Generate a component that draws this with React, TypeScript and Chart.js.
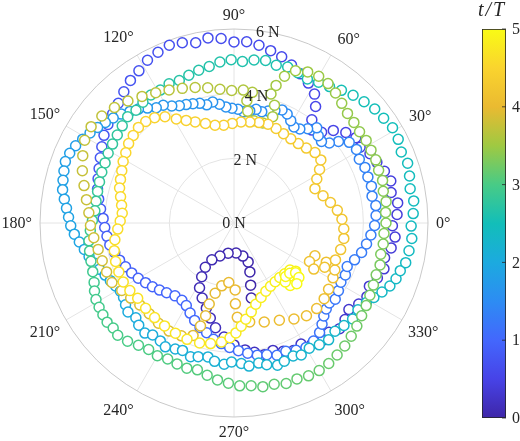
import React, { useEffect, useRef } from "react";
import { Chart, registerables } from "chart.js";

Chart.register(...registerables);

// ---- data: force direction (deg) and magnitude (N), sampled uniformly in time ----
const thetaDeg = [
  283, 285, 288, 290, 285, 274, 259, 247, 239, 237, 239, 242, 247, 252, 256, 260, 265, 270, 275,
  279, 283, 287, 291, 295, 299, 303, 307, 311, 315, 319, 323, 327, 331, 335, 339, 343, 347, 351, 355, 359,
  3, 7, 11, 15, 19, 23, 27, 31, 35, 39,
  43, 46, 50, 53, 55, 58, 62, 66, 70, 74,
  78, 82, 86, 90, 94, 98, 102, 106, 110, 114,
  118, 122, 126, 130, 134, 138, 142, 146, 150, 154,
  158, 162, 166, 170, 174, 178, 182, 186, 190, 194,
  198, 202, 206, 210, 214, 218, 222, 226, 231, 236,
  240, 244, 248, 252, 256, 260, 264, 268, 272, 276,
  280, 284, 288, 292, 296, 300, 304, 308, 311, 314,
  317, 320, 323, 327, 331, 335, 339, 343, 347, 351,
  355, 359, 3, 7, 11, 15, 19, 23, 27, 31,
  35, 38, 40, 43, 46, 49, 52, 55, 58, 61,
  64, 67, 70, 73, 76, 79, 82, 85, 88, 91,
  94, 97, 100, 103, 106, 109, 112, 115, 118, 121,
  124, 127, 130, 133, 136, 139, 142, 145, 148, 151,
  154, 157, 160, 163, 166, 169, 172, 175, 178, 181,
  184, 187, 190, 193, 196, 199, 202, 205, 208, 211,
  214, 217, 220, 224, 227, 231, 234, 238, 241, 245,
  248, 252, 255, 259, 262, 266, 269, 273, 276, 280,
  283, 287, 290, 294, 297, 301, 305, 309, 313, 317,
  321, 325, 329, 332, 335, 338, 341, 344, 347, 351,
  355, 359, 3, 7, 11, 15, 19, 23, 27, 31,
  35, 39, 43, 47, 51, 55, 59, 63, 67, 71,
  75, 79, 83, 87, 91, 95, 99, 103, 107, 111,
  115, 119, 123, 127, 131, 135, 139, 143, 147, 151,
  155, 159, 163, 167, 171, 175, 179, 183, 187, 191,
  195, 199, 203, 206, 209, 212, 215, 218, 221, 224,
  228, 232, 236, 240, 244, 248, 252, 256, 260, 264,
  268, 272, 276, 280, 284, 288, 292, 296, 300, 304,
  308, 312, 316, 320, 324, 328, 332, 336, 340, 344,
  348, 352, 356, 0, 4, 8, 12, 16, 20, 24,
  28, 32, 36, 40, 44, 48, 52, 56, 60, 64,
  68, 71, 73, 74, 71, 70, 74, 79, 83, 84,
  82, 86, 91, 96, 101, 106, 111, 116, 121, 126,
  131, 136, 141, 146, 151, 156, 161, 166, 171, 176,
  181, 186, 191, 196, 201, 206, 211, 216, 221, 227,
  233, 239, 245, 250, 252, 253, 253, 255, 259, 265,
  271, 271, 272, 279, 287, 295, 302, 308, 314, 320,
  325, 331, 335, 337, 338, 333, 330, 334, 340, 346,
  352, 357, 2, 7, 12, 17, 23, 28, 32, 36,
  41, 46, 51, 56, 61, 66, 71, 76, 81, 86,
  91, 96, 101, 106, 111, 115, 119, 123, 127, 131,
  135, 139, 143, 147, 151, 155, 159, 163, 167, 171,
  175, 179, 183, 188, 193, 198, 203, 208, 213, 218,
  224, 230, 236, 242, 248, 254, 259, 264, 268, 271,
  274, 277, 281, 285, 290, 295, 300, 305, 310, 315,
  320, 322, 320, 316, 312, 311, 314, 318, 321, 320, 316,
];

const forceN = [
  2.38, 1.99, 1.59, 1.28, 1.06, 0.93, 0.95, 1.11, 1.33, 1.63, 1.94, 2.27, 2.52, 2.77, 3.03, 3.29, 3.54, 3.77, 3.94,
  4.05, 4.18, 4.12, 4.25, 4.35, 4.28, 4.45, 4.55, 4.48, 4.62, 4.55, 4.45, 4.6, 4.7, 4.62, 4.75, 4.85, 4.78, 4.92, 5.0, 4.9,
  5.05, 5.1, 4.95, 5.02, 4.92, 4.8, 4.72, 4.55, 4.6, 4.45,
  4.2, 3.9, 3.75, 4.0, 4.4, 4.7, 4.9, 5.05, 5.2, 5.35,
  5.45, 5.55, 5.62, 5.6, 5.72, 5.78, 5.7, 5.8, 5.85, 5.78,
  5.7, 5.55, 5.45, 5.3, 5.15, 5.05, 4.95, 4.85, 4.72, 4.6,
  4.5, 4.42, 4.35, 4.25, 4.15, 4.05, 4.0, 3.95, 3.9, 3.8,
  3.72, 3.62, 3.52, 3.42, 3.3, 3.2, 3.1, 3.0, 2.9, 2.88,
  2.95, 3.1, 3.25, 3.4, 3.5, 3.65, 3.75, 3.85, 3.95, 4.05,
  4.15, 4.2, 4.3, 4.28, 4.38, 4.45, 4.4, 4.3, 4.15, 4.0,
  3.9, 3.85, 3.92, 3.85, 3.78, 3.8, 3.75, 3.9, 4.05, 4.15,
  4.25, 4.35, 4.4, 4.42, 4.35, 4.4, 4.38, 4.4, 4.35, 4.42,
  4.35, 4.1, 3.85, 3.7, 3.75, 3.9, 3.7, 3.55, 3.5, 3.62,
  3.75, 3.8, 3.7, 3.62, 3.55, 3.58, 3.5, 3.45, 3.52, 3.55,
  3.6, 3.7, 3.8, 3.75, 3.85, 3.9, 3.95, 4.0, 4.1, 4.25,
  4.3, 4.45, 4.6, 4.72, 4.85, 4.95, 5.05, 5.15, 5.25, 5.35,
  5.45, 5.52, 5.55, 5.5, 5.45, 5.4, 5.3, 5.2, 5.12, 5.05,
  4.95, 4.82, 4.7, 4.6, 4.5, 4.4, 4.3, 4.22, 4.15, 4.1,
  4.12, 4.2, 4.28, 4.22, 4.32, 4.38, 4.28, 4.3, 4.38, 4.3,
  4.25, 4.35, 4.28, 4.22, 4.32, 4.38, 4.3, 4.35, 4.45, 4.4,
  4.5, 4.6, 4.55, 4.5, 4.58, 4.52, 4.6, 4.65, 4.58, 4.65,
  4.72, 4.68, 4.78, 4.9, 5.05, 5.2, 5.3, 5.35, 5.45, 5.48,
  5.52, 5.48, 5.55, 5.6, 5.55, 5.62, 5.68, 5.62, 5.7, 5.72,
  5.65, 5.6, 5.5, 5.4, 5.28, 5.15, 5.08, 5.0, 5.05, 5.1,
  5.05, 5.12, 5.08, 5.0, 5.05, 5.0, 4.9, 4.85, 4.78, 4.72,
  4.75, 4.7, 4.72, 4.68, 4.62, 4.65, 4.58, 4.52, 4.48, 4.45,
  4.4, 4.38, 4.35, 4.33, 4.32, 4.32, 4.38, 4.45, 4.52, 4.55,
  4.58, 4.62, 4.7, 4.8, 4.88, 4.92, 4.95, 4.98, 4.95, 5.0,
  4.92, 4.8, 4.72, 4.74, 4.68, 4.7, 4.72, 4.68, 4.78, 4.88,
  4.96, 5.04, 5.06, 5.14, 5.14, 5.22, 5.2, 5.26, 5.27, 5.24,
  5.18, 5.12, 5.04, 4.96, 4.88, 4.82, 4.76, 4.72, 4.68, 4.7,
  4.64, 4.66, 4.65, 4.7, 4.7, 4.75, 4.72, 4.78, 4.76, 4.8,
  4.8, 4.82, 4.8, 4.84, 4.88, 4.98, 5.1, 5.2, 5.24, 5.2,
  5.08, 4.8, 4.45, 4.15, 3.85, 3.5, 3.22, 3.22, 3.48, 3.8,
  4.08, 4.12, 4.1, 4.16, 4.26, 4.36, 4.46, 4.58, 4.7, 4.84,
  5.0, 5.14, 5.26, 5.33, 5.28, 5.12, 4.96, 4.78, 4.62, 4.5,
  4.44, 4.36, 4.28, 4.24, 4.22, 4.2, 4.05, 3.95, 3.86, 3.84,
  3.88, 3.9, 3.85, 3.7, 3.35, 3.0, 2.62, 2.25, 1.98, 1.85,
  2.07, 2.5, 2.92, 3.1, 3.2, 3.32, 3.5, 3.64, 3.68, 3.64,
  3.57, 3.5, 3.44, 3.1, 2.7, 2.62, 2.85, 3.12, 3.34, 3.4,
  3.43, 3.4, 3.34, 3.22, 3.05, 2.88, 2.72, 2.9, 3.12, 3.32,
  3.32, 3.22, 3.16, 3.14, 3.16, 3.2, 3.23, 3.2, 3.16, 3.13,
  3.08, 3.04, 3.08, 3.2, 3.35, 3.5, 3.68, 3.92, 4.08, 4.16,
  4.18, 4.13, 4.08, 3.99, 3.92, 3.83, 3.76, 3.7, 3.6, 3.52,
  3.47, 3.52, 3.6, 3.72, 3.8, 3.85, 3.87, 3.88, 3.84, 3.78,
  3.8, 3.82, 3.84, 3.86, 3.88, 3.86, 3.8, 3.7, 3.55, 3.4,
  3.2, 3.0, 2.8, 2.6, 2.45, 2.33, 2.26, 2.22, 2.2, 2.22,
  2.26, 2.42, 2.6, 2.68, 2.6, 2.42, 2.3, 2.32, 2.45, 2.62, 2.7,
];

const T_START = 0;
const T_END = 5; // t/T of the last sample (uniform time sampling)

const thetaTicks = [0, 30, 60, 90, 120, 150, 180, 210, 240, 270, 300, 330];
const rTicks = [0, 2, 4, 6];
const colorbarTicks = [0, 1, 2, 3, 4, 5];
const R_MAX = 6;
const R_LABEL_ANGLE = 80;

// parula colormap stops (0, 0.1, ..., 1)
const PARULA: number[][] = [
  [62, 38, 168], [71, 67, 231], [67, 103, 253], [45, 140, 243], [28, 170, 223],
  [18, 190, 185], [72, 203, 134], [159, 201, 66], [234, 186, 49], [250, 212, 46], [249, 251, 21],
];

function parula(f: number): string {
  const c = Math.max(0, Math.min(1, f)) * (PARULA.length - 1);
  const i = Math.min(PARULA.length - 2, Math.floor(c));
  const u = c - i;
  const a = PARULA[i], b = PARULA[i + 1];
  const m = (k: number) => Math.round(a[k] + (b[k] - a[k]) * u);
  return `rgb(${m(0)},${m(1)},${m(2)})`;
}

const FONT = '"Liberation Serif", "Times New Roman", serif';
const TEXT = "#262626";

const polarDecor = {
  id: "polarDecor",
  beforeDatasetsDraw(chart: any) {
    const { ctx, scales } = chart;
    const xs = scales.x, ys = scales.y;
    const cx = xs.getPixelForValue(0), cy = ys.getPixelForValue(0);
    ctx.save();
    ctx.lineWidth = 1;
    ctx.strokeStyle = "#E4E4E4";
    for (const d of thetaTicks) {
      const a = (d * Math.PI) / 180;
      ctx.beginPath();
      ctx.moveTo(cx, cy);
      ctx.lineTo(xs.getPixelForValue(R_MAX * Math.cos(a)), ys.getPixelForValue(R_MAX * Math.sin(a)));
      ctx.stroke();
    }
    for (const r of rTicks) {
      if (r === 0) continue;
      const rp = xs.getPixelForValue(r) - cx;
      ctx.strokeStyle = r === R_MAX ? "#C9C9C9" : "#E4E4E4";
      ctx.beginPath();
      ctx.arc(cx, cy, rp, 0, Math.PI * 2);
      ctx.stroke();
    }
    ctx.restore();
  },
  afterDatasetsDraw(chart: any) {
    const { ctx, scales, chartArea } = chart;
    const xs = scales.x, ys = scales.y;
    const cx = xs.getPixelForValue(0), cy = ys.getPixelForValue(0);
    const Rpx = xs.getPixelForValue(R_MAX) - cx;
    ctx.save();
    ctx.fillStyle = TEXT;
    ctx.font = `16px ${FONT}`;
    ctx.textAlign = "center";
    ctx.textBaseline = "middle";
    // radial tick labels
    const ra = (R_LABEL_ANGLE * Math.PI) / 180;
    for (const r of rTicks) {
      ctx.fillText(`${r} N`, xs.getPixelForValue(r * Math.cos(ra)), ys.getPixelForValue(r * Math.sin(ra)) + 1);
    }
    // angular tick labels
    for (const d of thetaTicks) {
      const a = (d * Math.PI) / 180;
      const txt = `${d}°`;
      const w = ctx.measureText(txt).width;
      const h = 13;
      const c = Math.cos(a), s = Math.sin(a);
      const rr = Rpx + 8 + Math.abs(c) * w / 2 + Math.abs(s) * h / 2;
      const extra = Math.abs(c) > 0.3 && Math.abs(c) < 0.8 ? Math.sign(c) * 8 : 0;
      ctx.fillText(txt, cx + rr * c + extra, cy - rr * s + 1);
    }
    // colorbar
    const x0 = chartArea.right + 54, w = 24;
    const top = chartArea.top, bottom = chartArea.bottom + 1;
    const g = ctx.createLinearGradient(0, bottom, 0, top);
    PARULA.forEach((c, i) => g.addColorStop(i / (PARULA.length - 1), `rgb(${c[0]},${c[1]},${c[2]})`));
    ctx.fillStyle = g;
    ctx.fillRect(x0, top, w, bottom - top);
    ctx.strokeStyle = "#262626";
    ctx.lineWidth = 0.8;
    ctx.strokeRect(x0 + 0.5, top + 0.5, w - 1, bottom - top - 1);
    ctx.fillStyle = TEXT;
    ctx.textAlign = "left";
    const vmin = colorbarTicks[0], vmax = colorbarTicks[colorbarTicks.length - 1];
    for (const v of colorbarTicks) {
      const yy = bottom - ((v - vmin) / (vmax - vmin)) * (bottom - top);
      ctx.beginPath();
      ctx.moveTo(x0 + w - 4, yy);
      ctx.lineTo(x0 + w, yy);
      ctx.stroke();
      ctx.fillText(String(v), x0 + w + 6, yy + 1);
    }
    ctx.font = `italic 20px ${FONT}`;
    ctx.textAlign = "center";
    (ctx as any).letterSpacing = "2px";
    ctx.fillText("t/T", x0 + w / 2 - 2, 11);
    ctx.restore();
  },
};

export default function App() {
  const ref = useRef<HTMLCanvasElement | null>(null);
  useEffect(() => {
    if (!ref.current) return;
    const n = thetaDeg.length;
    const pts = thetaDeg.map((d, i) => {
      const a = (d * Math.PI) / 180;
      return { x: forceN[i] * Math.cos(a), y: forceN[i] * Math.sin(a) };
    });
    const tvals = thetaDeg.map((_, i) => T_START + ((T_END - T_START) * i) / (n - 1));
    const colors = tvals.map((t) => parula((t - T_START) / (T_END - T_START)));
    const chart = new Chart(ref.current, {
      type: "scatter",
      data: {
        datasets: [
          {
            data: pts,
            pointRadius: 5,
            pointBorderWidth: 1.5,
            pointBackgroundColor: "#ffffff",
            pointBorderColor: colors,
            pointHoverRadius: 5,
            clip: false as any,
          },
        ],
      },
      options: {
        animation: false,
        responsive: true,
        maintainAspectRatio: false,
        events: [],
        layout: { padding: { left: 40, right: 92, top: 29, bottom: 24 } },
        plugins: { legend: { display: false }, tooltip: { enabled: false } },
        scales: {
          x: { type: "linear", min: -R_MAX, max: R_MAX, display: false },
          y: { type: "linear", min: -R_MAX, max: R_MAX, display: false },
        },
      },
      plugins: [polarDecor],
    });
    return () => chart.destroy();
  }, []);
  return (
    <div style={{ position: "absolute", left: 0, top: 0, width: 520, height: 441, background: "#fff" }}>
      <canvas ref={ref} />
    </div>
  );
}
